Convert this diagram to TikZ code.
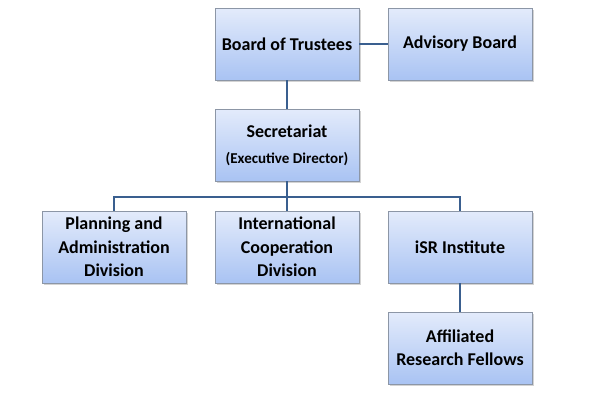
\documentclass[tikz,border=0pt]{standalone}
\usepackage{fontspec}
\setmainfont{Carlito}
\usepackage{tikz}
\usetikzlibrary{
  positioning,
  shadows
}
\definecolor{boxtop}{HTML}{E3EBFB}
\definecolor{boxbot}{HTML}{A9C3F3}
\definecolor{boxline}{HTML}{8C96A6}
\definecolor{linkblue}{HTML}{3A5F8F}

\begin{document}
\begin{tikzpicture}[
  unit/.style={draw=boxline, line width=0.6pt, top color=boxtop, bottom color=boxbot,
               minimum width=3.6cm, minimum height=1.8cm, align=center,
               font=\fontsize{12.8}{16.6}\selectfont\bfseries,
               drop shadow={shadow xshift=0.5mm, shadow yshift=-0.5mm, opacity=0.35}},
  link/.style={draw=linkblue, line width=0.9pt}
]
  \useasboundingbox (0,0) rectangle (14.875,-10.325);

  % Top level
  \node[unit] (trustees) at (7.175,-1.1) {Board of Trustees};
  \node[unit] (advisory) at (11.5,-1.1) {Advisory Board};
  \node[unit] (secretariat) at (7.175,-3.625) {Secretariat\\[2pt]{\fontsize{10.7}{13}\selectfont(Executive Director)}};

  % Divisions
  \node[unit] (planning) at (2.85,-6.175) {Planning and\\Administration\\Division};
  \node[unit] (intl) at (7.175,-6.175) {International\\Cooperation\\Division};
  \node[unit] (isr) at (11.5,-6.175) {iSR Institute};
  \node[unit] (fellows) at (11.5,-8.7) {Affiliated\\Research Fellows};

  \coordinate (bus) at (7.175,-4.925);

  % Links
  \draw[link] (trustees) -- (advisory);
  \draw[link] (trustees) -- (secretariat);
  \draw[link] (secretariat) -- (bus);
  \foreach \n in {planning, intl, isr} {
    \draw[link] (bus) -| (\n);
  }
  \draw[link] (isr) -- (fellows);
\end{tikzpicture}
\end{document}
